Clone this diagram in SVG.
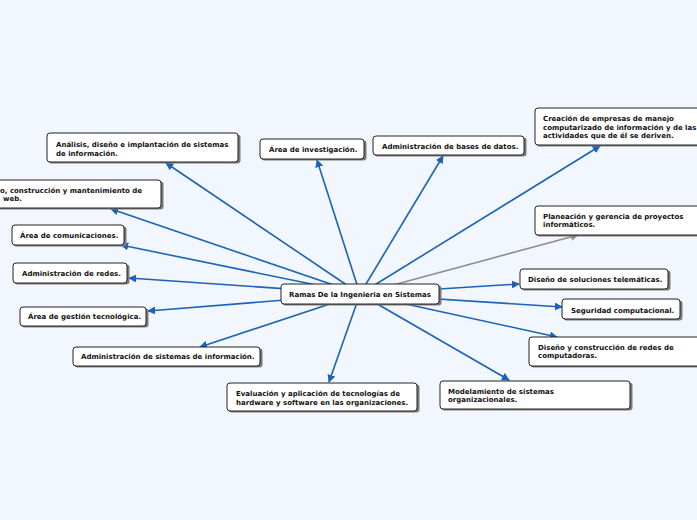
<svg xmlns="http://www.w3.org/2000/svg" width="697" height="520" viewBox="0 0 697 520">
<style>
.bg{fill:#f2f6fe}
.sh{fill:#7a7a7a}
.bx{fill:#ffffff;stroke:#222222;stroke-width:1}
.t{font-family:"DejaVu Sans",Verdana,sans-serif;font-weight:bold;font-size:7px;fill:#111111}
.c{stroke:#1a63b5;stroke-width:1.6;fill:none;marker-end:url(#ab)}
.g{stroke:#8f8f8f;stroke-width:1.6;fill:none;marker-end:url(#ag)}
</style>
<defs>
<marker id="ab" viewBox="0 0 10 10" refX="9" refY="5" markerWidth="5" markerHeight="5" orient="auto" markerUnits="strokeWidth">
<path d="M0,0 L10,5 L0,10 z" fill="#1a63b5"/>
</marker>
<marker id="ag" viewBox="0 0 10 10" refX="9" refY="5" markerWidth="5" markerHeight="5" orient="auto" markerUnits="strokeWidth">
<path d="M0,0 L10,5 L0,10 z" fill="#8f8f8f"/>
</marker>
</defs>
<rect class="bg" x="0" y="0" width="697" height="520"/>
<g id="connectors">
<line class="c" x1="360" y1="294" x2="166" y2="163"/>
<line class="c" x1="360" y1="294" x2="111" y2="209"/>
<line class="c" x1="360" y1="294" x2="121" y2="245"/>
<line class="c" x1="360" y1="294" x2="129" y2="278"/>
<line class="c" x1="360" y1="294" x2="148" y2="311"/>
<line class="c" x1="360" y1="294" x2="200" y2="347"/>
<line class="c" x1="360" y1="294" x2="329" y2="382"/>
<line class="c" x1="360" y1="294" x2="509" y2="380"/>
<line class="c" x1="360" y1="294" x2="557" y2="337"/>
<line class="c" x1="360" y1="294" x2="562" y2="307"/>
<line class="c" x1="360" y1="294" x2="519" y2="284"/>
<line class="g" x1="360" y1="294" x2="578" y2="235"/>
<line class="c" x1="360" y1="294" x2="600" y2="146"/>
<line class="c" x1="360" y1="294" x2="443" y2="156"/>
<line class="c" x1="360" y1="294" x2="317" y2="160"/>
</g>
<g id="center">
<rect class="sh" x="282.5" y="285.5" width="159" height="20" rx="3"/>
<rect class="bx" x="281" y="284" width="158" height="20" rx="3"/>
<text class="t" x="360" y="297" text-anchor="middle">Ramas De la Ingenieria en Sistemas</text>
</g>
<g id="n-analisis">
<rect class="sh" x="48.5" y="134.5" width="192" height="29" rx="3"/>
<rect class="bx" x="47" y="133" width="191" height="29" rx="3"/>
<text class="t" x="56" y="147">Análisis, diseño e implantación de sistemas</text>
<text class="t" x="56" y="155.5">de información.</text>
</g>
<g id="n-web">
<rect class="sh" x="-28.5" y="181.5" width="192" height="28" rx="3"/>
<rect class="bx" x="-30" y="180" width="191" height="28" rx="3"/>
<text class="t" x="0" y="192.5">o, construcción y mantenimiento de</text>
<text class="t" x="3" y="201">web.</text>
</g>
<g id="n-comunicaciones">
<rect class="sh" x="13.5" y="226.5" width="113" height="20" rx="3"/>
<rect class="bx" x="12" y="225" width="112" height="20" rx="3"/>
<text class="t" x="20" y="238">Área de comunicaciones.</text>
</g>
<g id="n-redes">
<rect class="sh" x="14.5" y="264.5" width="115" height="20" rx="3"/>
<rect class="bx" x="13" y="263" width="114" height="20" rx="3"/>
<text class="t" x="22" y="276">Administración de redes.</text>
</g>
<g id="n-gestion">
<rect class="sh" x="21.5" y="308.5" width="127" height="19" rx="3"/>
<rect class="bx" x="20" y="307" width="126" height="19" rx="3"/>
<text class="t" x="28" y="319">Área de gestión tecnológica.</text>
</g>
<g id="n-sistemas-info">
<rect class="sh" x="74.5" y="348.5" width="188" height="19" rx="3"/>
<rect class="bx" x="73" y="347" width="187" height="19" rx="3"/>
<text class="t" x="81" y="359">Administración de sistemas de información.</text>
</g>
<g id="n-evaluacion">
<rect class="sh" x="228.5" y="384.5" width="191" height="28" rx="3"/>
<rect class="bx" x="227" y="383" width="190" height="28" rx="3"/>
<text class="t" x="236" y="396">Evaluación y aplicación de tecnologías de</text>
<text class="t" x="236" y="404.5">hardware y software en las organizaciones.</text>
</g>
<g id="n-modelamiento">
<rect class="sh" x="441.5" y="382.5" width="191" height="28" rx="3"/>
<rect class="bx" x="440" y="381" width="190" height="28" rx="3"/>
<text class="t" x="448" y="393.5">Modelamiento de sistemas</text>
<text class="t" x="448" y="402">organizacionales.</text>
</g>
<g id="n-redes-comp">
<rect class="sh" x="530.5" y="338.5" width="190" height="29" rx="3"/>
<rect class="bx" x="529" y="337" width="189" height="29" rx="3"/>
<text class="t" x="538" y="349.5">Diseño y construcción de redes de</text>
<text class="t" x="538" y="358">computadoras.</text>
</g>
<g id="n-seguridad">
<rect class="sh" x="563.5" y="300.5" width="119" height="20" rx="3"/>
<rect class="bx" x="562" y="299" width="118" height="20" rx="3"/>
<text class="t" x="571" y="312.5">Seguridad computacional.</text>
</g>
<g id="n-telematicas">
<rect class="sh" x="521.5" y="270.5" width="149" height="20" rx="3"/>
<rect class="bx" x="520" y="269" width="148" height="20" rx="3"/>
<text class="t" x="528" y="282">Diseño de soluciones telemáticas.</text>
</g>
<g id="n-planeacion">
<rect class="sh" x="536.5" y="207.5" width="190" height="29" rx="3"/>
<rect class="bx" x="535" y="206" width="189" height="29" rx="3"/>
<text class="t" x="543" y="218.5">Planeación y gerencia de proyectos</text>
<text class="t" x="543" y="227">informáticos.</text>
</g>
<g id="n-creacion">
<rect class="sh" x="536.5" y="109.5" width="190" height="37" rx="3"/>
<rect class="bx" x="535" y="108" width="189" height="37" rx="3"/>
<text class="t" x="543" y="121">Creación de empresas de manejo</text>
<text class="t" x="543" y="129.5">computarizado de información y de las</text>
<text class="t" x="543" y="138">actividades que de él se deriven.</text>
</g>
<g id="n-bases">
<rect class="sh" x="374.5" y="137.5" width="152" height="19" rx="3"/>
<rect class="bx" x="373" y="136" width="151" height="19" rx="3"/>
<text class="t" x="382" y="148.5">Administración de bases de datos.</text>
</g>
<g id="n-investigacion">
<rect class="sh" x="261.5" y="140.5" width="105" height="20" rx="3"/>
<rect class="bx" x="260" y="139" width="104" height="20" rx="3"/>
<text class="t" x="269" y="151.5">Área de investigación.</text>
</g>
</svg>
